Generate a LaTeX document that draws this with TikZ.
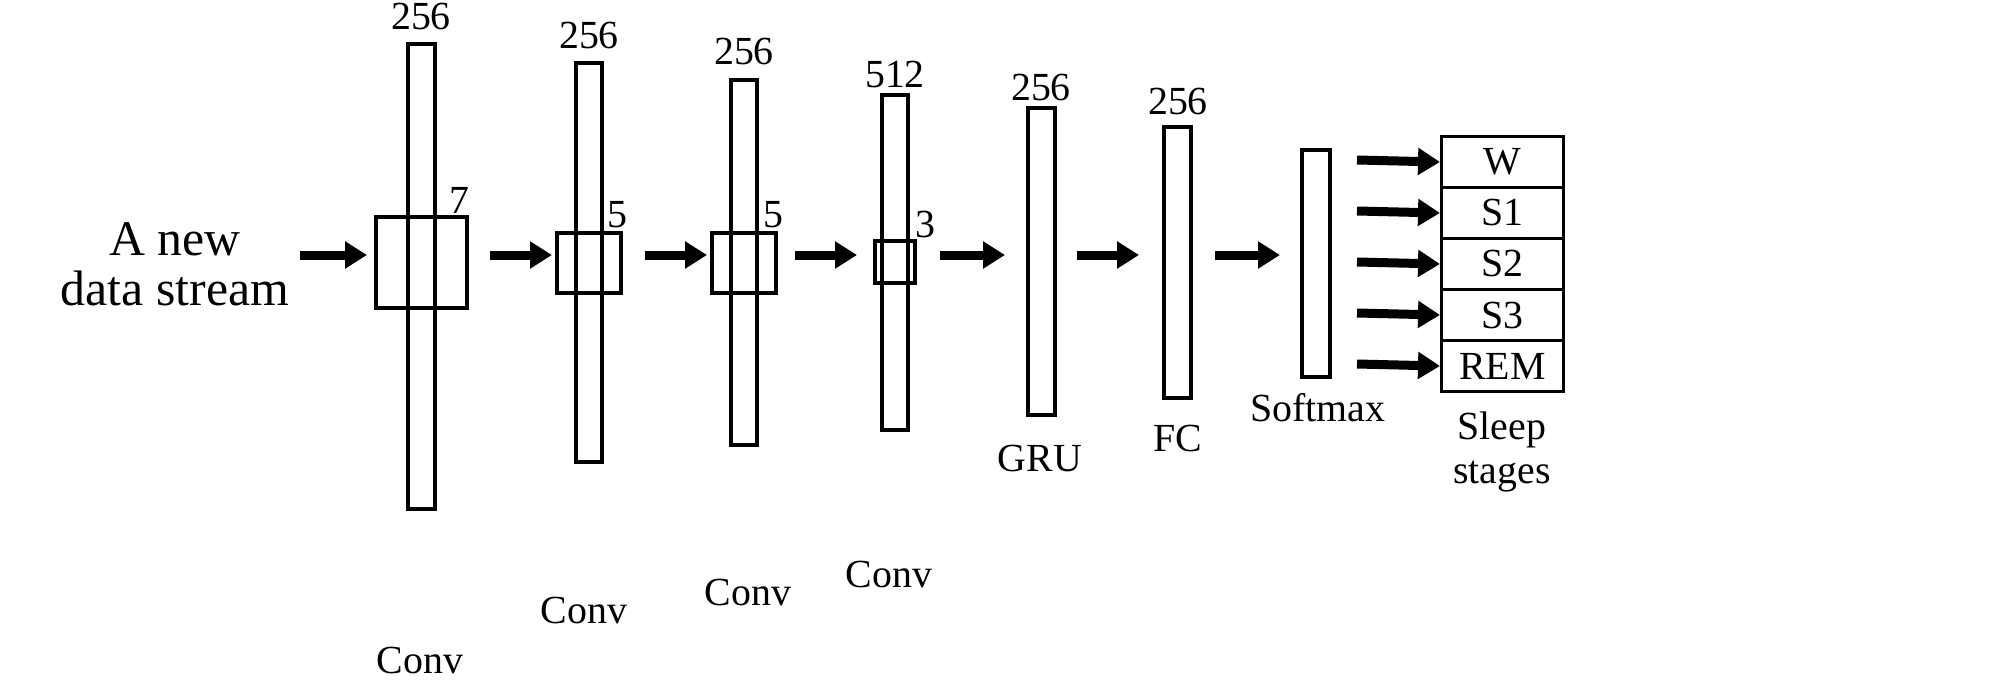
\documentclass[tikz,border=0pt]{standalone}
\usepackage{fontspec}
\setmainfont{Liberation Serif}
\usetikzlibrary{arrows.meta}
\begin{document}
\begin{tikzpicture}[x=1bp,y=-1bp,
  box/.style={draw,line width=3.5bp},
  arr/.style={line width=9bp,-{Triangle[length=22bp,width=26bp]}},
  lab/.style={font=\fontsize{40}{44}\selectfont,inner sep=0},
  big/.style={font=\fontsize{50}{54}\selectfont,inner sep=0,align=center}]
\useasboundingbox (0,0) rectangle (2010,692);
\node[big] (inp) at (175,264) {A new\\[-4bp]data stream};
% bars
\draw[box] (408,44) rectangle (435,509) coordinate (b1);
\draw[box] (376,217) rectangle (467,308);
\draw[box] (576,63) rectangle (602,462);
\draw[box] (557,233) rectangle (621,293);
\draw[box] (731,80) rectangle (757,445);
\draw[box] (712,233) rectangle (776,293);
\draw[box] (882,95) rectangle (908,430);
\draw[box] (875,241) rectangle (915,283);
\draw[box] (1028,108) rectangle (1055,415);
\draw[box] (1164,127) rectangle (1191,398);
\draw[box] (1302,150) rectangle (1330,377);
% labels
\node[lab] (t1) at (421,17) {256};
\node[lab] (t2) at (589,36) {256};
\node[lab] (t3) at (744,52) {256};
\node[lab] (t4) at (895,75) {512};
\node[lab] (t5) at (1041,88) {256};
\node[lab] (t6) at (1178,102) {256};
\node[lab] (k1) at (459,200) {7};
\node[lab] (k2) at (617,215) {5};
\node[lab] (k3) at (773,215) {5};
\node[lab] (k4) at (925,225) {3};
\node[lab] (c1) at (420,660) {Conv};
\node[lab] (c2) at (584,610) {Conv};
\node[lab] (c3) at (748,592) {Conv};
\node[lab] (c4) at (889,574) {Conv};
\node[lab] (g) at (1040,458) {GRU};
\node[lab] (fc) at (1178,438) {FC};
\node[lab] (sm) at (1318,408) {Softmax};
\node[lab,align=center] (ss) at (1502,452) {Sleep\\stages};
% arrows
\foreach \a/\b in {300/367,490/552,645/707,795/857,940/1005,1077/1139,1215/1280}
  \draw[arr] (\a,255) -- (\b,255);
% table
\foreach \y/\t [count=\i] in {135/W,186/S1,237/S2,288/S3,339/REM}{
  \node[draw,line width=3bp,minimum width=122bp,minimum height=51bp,anchor=north west,lab] (r\i) at (1440,\y) {\t};
  \coordinate (s\i) at (1357,\y+25);
  \draw[arr] (s\i) -- (r\i.west);
}
\end{tikzpicture}
\end{document}
